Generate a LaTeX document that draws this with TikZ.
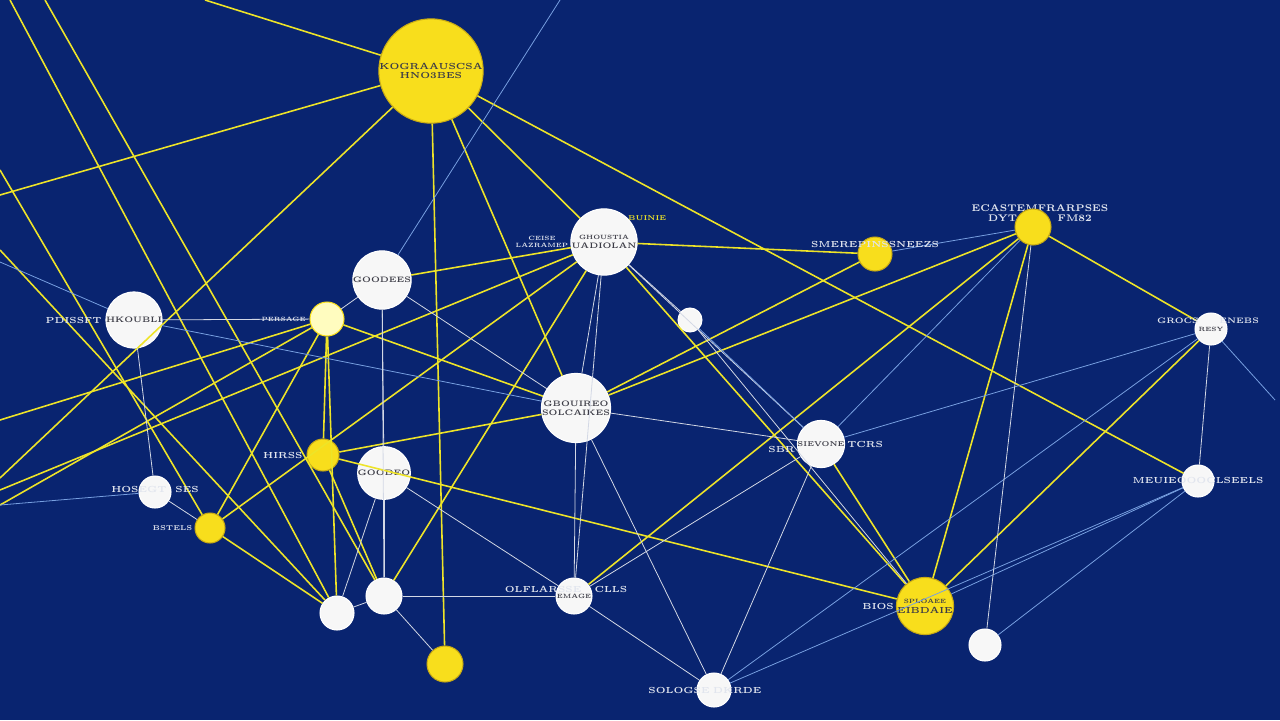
\documentclass[tikz,border=0pt]{standalone}
\usepackage{tikz}
\usetikzlibrary{positioning,shapes}
\definecolor{bgblue}{RGB}{9,36,112}
\definecolor{linkyellow}{RGB}{238,228,40}
\definecolor{hubfill}{RGB}{248,222,28}
\definecolor{hubedge}{RGB}{200,170,20}
\definecolor{paleblue}{RGB}{120,160,225}
\definecolor{inktext}{RGB}{60,60,70}
\tikzstyle{Y} = [circle,
			fill=hubfill, draw=hubedge, line width=0.6pt,
			inner sep=0pt, text=inktext, align=center,
			font=\bfseries\fontsize{5}{5.5}\selectfont]
\tikzstyle{W} = [circle,
			fill=white!94!gray, draw=white, line width=0.6pt,
			inner sep=0pt, text=inktext, align=center,
			font=\bfseries\fontsize{4.5}{5}\selectfont]
\tikzstyle{Lbl} = [text=white!88!bgblue, inner sep=0pt, align=center,
			font=\bfseries\fontsize{5}{5.5}\selectfont]
\tikzstyle{L} = [draw=linkyellow, line width=0.9pt]
\tikzstyle{T} = [draw=white!82!bgblue, line width=0.45pt]
\tikzstyle{B} = [draw=paleblue, line width=0.45pt]

\begin{document}
\begin{tikzpicture}[x=0.02cm, y=-0.02cm]

\fill[bgblue] (0,0) rectangle (1280,720);
\useasboundingbox (0,0) rectangle (1280,720);

% labels that sit behind their node
\node [Lbl, font=\bfseries\fontsize{5.5}{6}\selectfont] (eastlbl) at (1040,213)
	{ECASTEMFRARPSES\\DYT\hspace{4.2em}FM82};

\node [Y, minimum size=1.64cm]
(hub) at (431,71)
	{KOGRAAUSCSA\\HNO3BES};

\node [W, minimum size=0.84cm]
(gate) at (604,242)
	{\fontsize{3.5}{4}\selectfont GHOUSTIA\\UADIOLAN};

\node [Y, minimum size=0.72cm]
(east) at (1033,227)
	{};

\node [Y, minimum size=0.68cm]
(smer) at (875,254)
	{};

\node [W, minimum size=0.64cm]
(gros) at (1211,329)
	{\fontsize{3.5}{4}\selectfont RESY};

\node [W, minimum size=0.96cm]
(good) at (382,280)
	{GOODEES};

\node [W, fill=yellow!25!white, draw=hubfill, minimum size=0.68cm]
(pivot) at (327,319)
	{};

\node [W, minimum size=0.88cm]
(hkou) at (134,320)
	{HKOUBLI};

\node [W, minimum size=0.48cm]
(dot) at (690,320)
	{};

\node [W, minimum size=1.12cm]
(core) at (576,408)
	{GBOUIREO\\SOLCAIKES};

\node [W, minimum size=0.88cm]
(siev) at (821,444)
	{\fontsize{4}{4.5}\selectfont SIEVONE};

\node [W, minimum size=0.64cm]
(meui) at (1198,481)
	{};

\node [Y, minimum size=0.64cm]
(hirs) at (323,455)
	{};

\node [W, minimum size=1.04cm]
(goodeo) at (384,473)
	{GOODEO};

\node [W, minimum size=0.64cm]
(hose) at (155,492)
	{};

\node [Y, minimum size=0.6cm]
(pyel) at (210,528)
	{};

\node [W, minimum size=0.72cm]
(quay) at (384,596)
	{};

\node [W, minimum size=0.68cm]
(rin) at (337,613)
	{};

\node [W, minimum size=0.72cm]
(olf) at (574,596)
	{\fontsize{3.5}{4}\selectfont EMAGE};

\node [Y, minimum size=0.76cm]
(bios) at (925,606)
	{\fontsize{3.5}{4}\selectfont SPLOAEE\\EIBDAIE};

\node [W, minimum size=0.64cm]
(ubox) at (985,645)
	{};

\node [Y, minimum size=0.72cm]
(vyel) at (445,664)
	{};

\node [W, minimum size=0.68cm]
(sol) at (714,690)
	{};

% free ends at the border
\coordinate (nw1) at (205,0);
\coordinate (nw2) at (0,195);
\coordinate (nw3) at (0,478);
\coordinate (nw4) at (10,0);
\coordinate (nw5) at (45,0);
\coordinate (nw6) at (0,170);
\coordinate (nw7) at (0,250);
\coordinate (nw8) at (0,420);
\coordinate (nw9) at (0,490);
\coordinate (nw10) at (0,505);
\coordinate (nw11) at (0,262);
\coordinate (nt1) at (560,0);
\coordinate (ne1) at (1275,400);

% yellow links
\path[L] (nw1) -- (hub);
\path[L] (nw2) -- (hub);
\path[L] (hub) -- (nw3);
\path[L] (hub) -- (vyel);
\path[L] (hub) -- (core);
\path[L] (hub) -- (gate);
\path[L] (hub) -- (meui);
\path[L] (nw4) -- (rin);
\path[L] (nw5) -- (quay);
\path[L] (nw6) -- (pyel);
\path[L] (nw7) -- (rin);
\path[L] (nw8) -- (pivot);
\path[L] (nw9) -- (gate);
\path[L] (nw10) -- (pivot);
\path[L] (pivot) -- (pyel);
\path[L] (pivot) -- (rin);
\path[L] (pivot) -- (hirs);
\path[L] (pivot) -- (core);
\path[L] (hirs) -- (core);
\path[L] (hirs) -- (bios);
\path[L] (hirs) -- (quay);
\path[L] (good) -- (gate);
\path[L] (gate) -- (smer);
\path[L] (gate) -- (bios);
\path[L] (gate) -- (pyel);
\path[L] (gate) -- (quay);
\path[L] (smer) -- (core);
\path[L] (east) -- (gros);
\path[L] (east) -- (core);
\path[L] (east) -- (bios);
\path[L] (east) -- (olf);
\path[L] (bios) -- (gros);
\path[L] (bios) -- (siev);
\path[L] (pyel) -- (rin);

% thin links
\path[T] (gate) -- (core);
\path[T] (gate) -- (siev);
\path[T] (gate) -- (dot);
\path[T] (gate) -- (olf);
\path[B] (nt1) -- (good);
\path[T] (dot) -- (bios);
\path[B] (dot) -- (siev);
\path[T] (siev) -- (sol);
\path[T] (siev) -- (olf);
\path[T] (siev) -- (core);
\path[B] (siev) -- (east);
\path[B] (siev) -- (gros);
\path[T] (core) -- (sol);
\path[T] (core) -- (olf);
\path[T] (core) -- (good);
\path[B] (core) -- (hkou);
\path[T] (olf) -- (sol);
\path[T] (olf) -- (goodeo);
\path[T] (olf) -- (quay);
\path[B] (sol) -- (gros);
\path[B] (sol) -- (meui);
\path[B] (meui) -- (ubox);
\path[T] (meui) -- (gros);
\path[B] (meui) -- (bios);
\path[B] (gros) -- (ne1);
\path[T] (ubox) -- (east);
\path[B] (east) -- (smer);
\path[B] (hkou) -- (nw11);
\path[T] (hkou) -- (hose);
\path[T] (hkou) -- (pivot);
\path[T] (hose) -- (pyel);
\path[B] (hose) -- (nw10);
\path[T] (goodeo) -- (good);
\path[T] (goodeo) -- (quay);
\path[T] (goodeo) -- (rin);
\path[T] (rin) -- (quay);
\path[T] (quay) -- (vyel);
\path[T] (good) -- (pivot);
\path[T] (good) -- (quay);

% side labels
\node [Lbl, left=1pt of gate, font=\bfseries\fontsize{3.5}{4}\selectfont] (gatelbl)
	{CEISE\\LAZRAMEP};

\node [Lbl, right=0pt of gate.north east, text=linkyellow, font=\bfseries\fontsize{4}{4.5}\selectfont] (gatetag)
	{BUINIE};

\node [Lbl] (smerlbl) at (875,244)
	{SMEREPINSSNEEZS};

\node [Lbl, font=\bfseries\fontsize{4.5}{5}\selectfont] (groslbl) at (1208,321)
	{GROCS\hspace{2.6em}ENEBS};

\node [Lbl, left=2pt of pivot, font=\bfseries\fontsize{3.5}{4}\selectfont] (pivotlbl)
	{PERSAGE};

\node [Lbl, left=2pt of hkou] (hkoulbl)
	{PDISSFT};

\node [Lbl, left=1pt of siev, yshift=-3pt] (sievlbl)
	{SBR};

\node [Lbl, right=1pt of siev] (sievtag)
	{TCRS};

\node [Lbl] (meuilbl) at (1198,480)
	{MEUIEOOOCLSEELS};

\node [Lbl, left=2pt of hirs] (hirslbl)
	{HIRSS};

\node [Lbl] (hoselbl) at (155,489)
	{HOSEGT\hspace{1em}SES};

\node [Lbl, left=1pt of pyel, font=\bfseries\fontsize{4}{4.5}\selectfont] (pyellbl)
	{BSTELS};

\node [Lbl] (olflbl) at (566,589)
	{OLFLARSSE\hspace{1.5em}CLLS};

\node [Lbl, left=1pt of bios] (bioslbl)
	{BIOS};

\node [Lbl] (sollbl) at (705,690)
	{SOLOGSE\hspace{0.4em}DKRDE};

\end{tikzpicture}
\end{document}
